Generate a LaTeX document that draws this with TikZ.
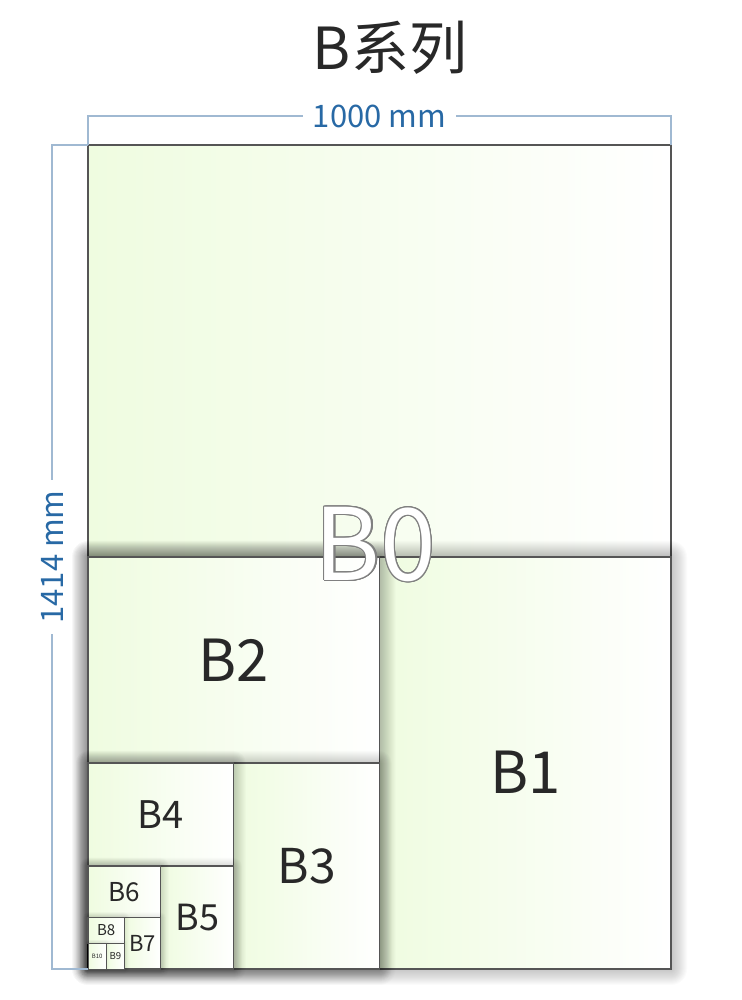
\documentclass[tikz,border=0pt]{standalone}
\usepackage{fontspec}
\setmainfont{Noto Sans CJK SC}
\usepackage{contour}
\contourlength{0.6pt}

\definecolor{sheetgreen}{RGB}{239,252,224}
\definecolor{sheetline}{RGB}{85,85,85}
\definecolor{dimcolor}{RGB}{160,185,210}
\definecolor{dimtextcolor}{RGB}{40,105,165}
\definecolor{labelcolor}{RGB}{40,40,40}

\newcommand{\fsz}[1]{\fontsize{#1}{#1}\selectfont}
% soft shadow round the part of B0 that is still covered
\newcommand{\sheetshadow}[2]{%
  \foreach \d in {1,...,#2}
    \fill[black, opacity=0.014, rounded corners=\d*0.5pt] ([shift={(-\d*0.5pt,-\d*0.5pt)}]b0.south west) rectangle ([shift={(\d*0.5pt,\d*0.5pt)}]#1);
}

\tikzset{
  sheet/.style 2 args={draw=sheetline, line width=0.6pt, left color=sheetgreen, middle color=sheetgreen!40!white, right color=white,
    minimum width=#1, minimum height=#2, inner sep=0pt, outer sep=0pt, text=labelcolor, anchor=north east},
  dimline/.style={draw=dimcolor, line width=0.7pt},
  dimtext/.style={text=dimtextcolor, fill=white, inner xsep=5pt, inner ysep=1pt, font=\fsz{15.5}},
}

\begin{document}
\begin{tikzpicture}
\useasboundingbox (0,0) rectangle (370.5pt,500pt);

\node[font=\fsz{29}, text=labelcolor] (title) at (195pt,476pt) {B系列};

\node[sheet={291.5pt}{412pt}, anchor=north west] (b0) at (44pt,427.5pt) {};
\sheetshadow{b0.east}{16}
\node[sheet={145.75pt}{206pt}, font=\fsz{29}, text height=31pt, text depth=0pt] (b1) at (b0.east) {B1};
\sheetshadow{b1.north west}{16}
\node[sheet={145.75pt}{103pt}, font=\fsz{29}] (b2) at (b1.north west) {B2};
\sheetshadow{b2.south east}{12}
\node[sheet={72.875pt}{103pt}, font=\fsz{24}] (b3) at (b2.south east) {B3};
\sheetshadow{b3.north west}{12}
\node[sheet={72.875pt}{51.5pt}, font=\fsz{19}] (b4) at (b3.north west) {B4};
\sheetshadow{b4.south east}{8}
\node[sheet={36.4375pt}{51.5pt}, font=\fsz{18}] (b5) at (b4.south east) {B5};
\sheetshadow{b5.north west}{8}
\node[sheet={36.4375pt}{25.75pt}, font=\fsz{13}] (b6) at (b5.north west) {B6};
\sheetshadow{b6.south east}{5}
\node[sheet={18.21875pt}{25.75pt}, font=\fsz{11}] (b7) at (b6.south east) {B7};
\sheetshadow{b7.north west}{5}
\node[sheet={18.21875pt}{12.875pt}, font=\fsz{7.5}] (b8) at (b7.north west) {B8};
\sheetshadow{b8.south east}{3}
\node[sheet={9.109pt}{12.875pt}, line width=0.4pt, font=\fsz{4.8}] (b9) at (b8.south east) {B9};
\sheetshadow{b9.north west}{3}
\node[sheet={9.109pt}{12.875pt}, line width=0.4pt, font=\fsz{3}] (b10) at (b9.north west) {B10};

\node[font=\fsz{50}, text=white, inner sep=0pt] (lblb0) at ([shift={(-2pt,6pt)}]b0.center) {\contour{gray}{B0}};

% dimensions
\draw[dimline] (b0.north west) -- ++(0,14.5pt) -- node[dimtext] (w) {1000 mm} ([yshift=14.5pt]b0.north east) -- (b0.north east);
\draw[dimline] (b0.north west) -- ++(-18pt,0) -- node[dimtext, rotate=90] (h) {1414 mm} ([xshift=-18pt]b0.south west) -- (b0.south west);
\end{tikzpicture}
\end{document}
